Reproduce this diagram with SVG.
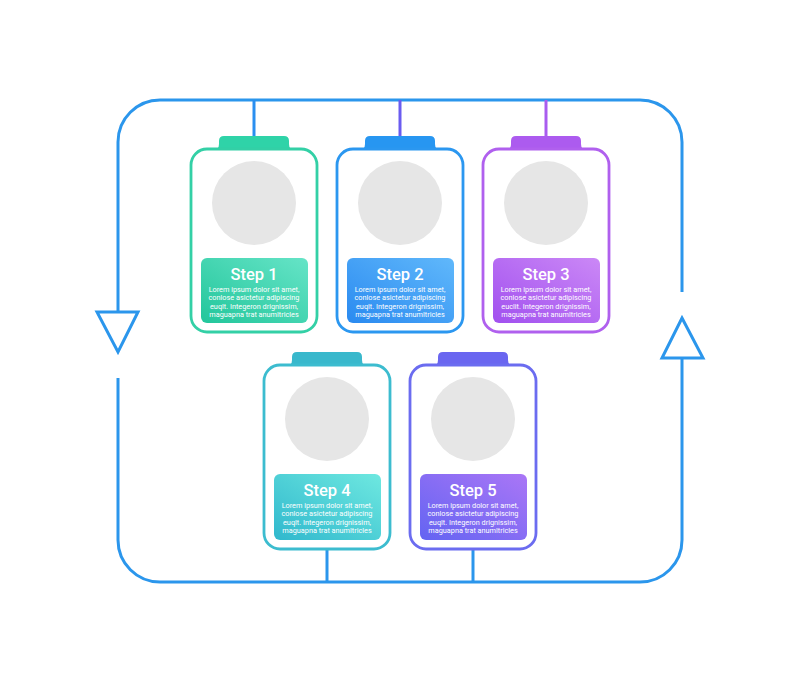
<svg xmlns="http://www.w3.org/2000/svg" width="800" height="684" viewBox="0 0 800 684">
<defs>
<linearGradient id="g1" x1="0" y1="1" x2="1" y2="0"><stop offset="0" stop-color="#22c69b"/><stop offset="1" stop-color="#66e4c7"/></linearGradient>
<linearGradient id="g2" x1="0" y1="1" x2="1" y2="0"><stop offset="0" stop-color="#2a8af0"/><stop offset="1" stop-color="#60b8fb"/></linearGradient>
<linearGradient id="g3" x1="0" y1="1" x2="1" y2="0"><stop offset="0" stop-color="#a150ef"/><stop offset="1" stop-color="#cb88f6"/></linearGradient>
<linearGradient id="g4" x1="0" y1="1" x2="1" y2="0"><stop offset="0" stop-color="#30b8cd"/><stop offset="1" stop-color="#6ee8e0"/></linearGradient>
<linearGradient id="g5" x1="0" y1="1" x2="1" y2="0"><stop offset="0" stop-color="#6364f2"/><stop offset="1" stop-color="#aa76f6"/></linearGradient>
</defs>
<style>
.card{fill:#fff;stroke-width:2.8}
.ph{fill:#e6e6e6}
.step{font-family:Roboto,"Liberation Sans",sans-serif;font-weight:500;font-size:16.5px;fill:#fff;text-anchor:middle}
.lorem{font-family:Roboto,"Liberation Sans",sans-serif;font-size:7.3px;fill:#fff;text-anchor:middle}
.loop{fill:none;stroke:#2b96ec;stroke-width:3}
.tri{fill:#fff;stroke:#2b96ec;stroke-width:3;stroke-linejoin:miter}
.conn{stroke-width:3;fill:none}
</style>
<g id="connectors">
<path class="loop" d="M118,312 L118,142 A42,42 0 0 1 160,100 L640,100 A42,42 0 0 1 682,142 L682,292"/>
<path class="loop" d="M682,358 L682,540 A42,42 0 0 1 640,582 L160,582 A42,42 0 0 1 118,540 L118,378"/>
<polygon class="tri" points="97,312 138,312 118,352"/>
<polygon class="tri" points="682,318 703,358 662,358"/>
<line class="conn" x1="254" y1="100" x2="254" y2="137" stroke="#2a8ff0"/>
<line class="conn" x1="400" y1="100" x2="400" y2="137" stroke="#6a5cf0"/>
<line class="conn" x1="546" y1="100" x2="546" y2="137" stroke="#a95cef"/>
<line class="conn" x1="327" y1="550" x2="327" y2="582" stroke="#2b96ec"/>
<line class="conn" x1="473" y1="550" x2="473" y2="582" stroke="#2b96ec"/>
</g>
<g id="step1">
<path d="M213,150 Q219,150 219,144 L219,141 Q219,136 224,136 L284,136 Q289,136 289,141 L289,144 Q289,150 295,150 Z" fill="#2fd3a8"/>
<rect class="card" x="191" y="149" width="126" height="183" rx="16" stroke="#33d0a6"/>
<circle class="ph" cx="254" cy="203" r="42"/>
<rect x="201" y="258" width="107" height="65" rx="6" fill="url(#g1)"/>
<text class="step" x="254" y="280">Step 1</text>
<text class="lorem" x="254" y="291.5">Lorem ipsum dolor sit amet,</text>
<text class="lorem" x="254" y="300">conlose asictetur adipiscing</text>
<text class="lorem" x="254" y="308.5">euqlt. Integeron drignissim,</text>
<text class="lorem" x="254" y="317">maguapna trat anumltricles</text>
</g>
<g id="step2">
<path d="M359,150 Q365,150 365,144 L365,141 Q365,136 370,136 L430,136 Q435,136 435,141 L435,144 Q435,150 441,150 Z" fill="#2796f1"/>
<rect class="card" x="337" y="149" width="126" height="183" rx="16" stroke="#2b97f0"/>
<circle class="ph" cx="400" cy="203" r="42"/>
<rect x="347" y="258" width="107" height="65" rx="6" fill="url(#g2)"/>
<text class="step" x="400" y="280">Step 2</text>
<text class="lorem" x="400" y="291.5">Lorem ipsum dolor sit amet,</text>
<text class="lorem" x="400" y="300">conlose asictetur adipiscing</text>
<text class="lorem" x="400" y="308.5">euqlt. Integeron drignissim,</text>
<text class="lorem" x="400" y="317">maguapna trat anumltricles</text>
</g>
<g id="step3">
<path d="M505,150 Q511,150 511,144 L511,141 Q511,136 516,136 L576,136 Q581,136 581,141 L581,144 Q581,150 587,150 Z" fill="#ac5bef"/>
<rect class="card" x="483" y="149" width="126" height="183" rx="16" stroke="#b060ee"/>
<circle class="ph" cx="546" cy="203" r="42"/>
<rect x="493" y="258" width="107" height="65" rx="6" fill="url(#g3)"/>
<text class="step" x="546" y="280">Step 3</text>
<text class="lorem" x="546" y="291.5">Lorem ipsum dolor sit amet,</text>
<text class="lorem" x="546" y="300">conlose asictetur adipiscing</text>
<text class="lorem" x="546" y="308.5">euclit. Integeron drignissim,</text>
<text class="lorem" x="546" y="317">maguapna trat anumltricles</text>
</g>
<g id="step4">
<path d="M286,366 Q292,366 292,360 L292,357 Q292,352 297,352 L357,352 Q362,352 362,357 L362,360 Q362,366 368,366 Z" fill="#39b8cc"/>
<rect class="card" x="264" y="365" width="126" height="184" rx="16" stroke="#3cbccf"/>
<circle class="ph" cx="327" cy="419" r="42"/>
<rect x="274" y="474" width="107" height="66" rx="6" fill="url(#g4)"/>
<text class="step" x="327" y="496">Step 4</text>
<text class="lorem" x="327" y="507.5">Lorem ipsum dolor sit amet,</text>
<text class="lorem" x="327" y="516">conlose asictetur adipiscing</text>
<text class="lorem" x="327" y="524.5">euqlt. Integeron drignissim,</text>
<text class="lorem" x="327" y="533">maguapna trat anumltricles</text>
</g>
<g id="step5">
<path d="M432,366 Q438,366 438,360 L438,357 Q438,352 443,352 L503,352 Q508,352 508,357 L508,360 Q508,366 514,366 Z" fill="#6a66f0"/>
<rect class="card" x="410" y="365" width="126" height="184" rx="16" stroke="#6b6cf0"/>
<circle class="ph" cx="473" cy="419" r="42"/>
<rect x="420" y="474" width="107" height="66" rx="6" fill="url(#g5)"/>
<text class="step" x="473" y="496">Step 5</text>
<text class="lorem" x="473" y="507.5">Lorem ipsum dolor sit amet,</text>
<text class="lorem" x="473" y="516">conlose asictetur adipiscing</text>
<text class="lorem" x="473" y="524.5">euqlt. Integeron drignissim,</text>
<text class="lorem" x="473" y="533">maguapna trat anumltricles</text>
</g>
</svg>
